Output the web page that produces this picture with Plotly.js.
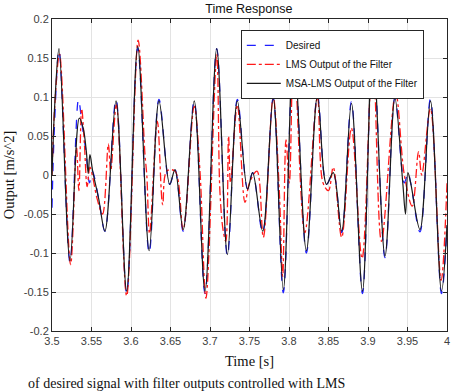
<!DOCTYPE html>
<html>
<head>
<meta charset="utf-8">
<script src="https://cdn.plot.ly/plotly-3.0.1.min.js"></script>
<style>
html,body{margin:0;padding:0;background:#fff;}
#chart{width:474px;height:392px;}
</style>
</head>
<body>
<div id="chart"></div>
<script>
// Desired signal
const tDesired = [3.5000,3.5030,3.5089,3.5228,3.5335,3.5380,3.5430,3.5475,3.5510,3.5590,3.5670,3.5810,3.5945,3.6085,3.6230,3.6354,3.6490,3.6557,3.6660,3.6800,3.6937,3.7085,3.7220,3.7346,3.7475,3.7540,3.7667,3.7800,3.7928,3.8060,3.8220,3.8360,3.8475,3.8560,3.8667,3.8790,3.8930,3.9060,3.9215,3.9340,3.9460,3.9505,3.9540,3.9658,3.9790,3.9930,4.0000];
const yDesired = [-0.042,0.060,0.160,-0.112,0.097,0.065,0.030,-0.010,0.005,-0.030,-0.072,0.097,-0.152,0.163,-0.100,0.097,-0.012,0.007,-0.072,0.095,-0.152,0.162,-0.104,0.097,-0.018,0.003,-0.074,0.099,-0.151,0.162,-0.100,0.103,-0.012,0.003,-0.074,0.094,-0.152,0.162,-0.106,0.099,-0.010,0.003,-0.010,-0.073,0.097,-0.152,-0.066];

// LMS output of the filter
const tLMS = [3.5000,3.5030,3.5095,3.5235,3.5310,3.5340,3.5375,3.5410,3.5445,3.5480,3.5520,3.5570,3.5640,3.5713,3.5743,3.5815,3.5945,3.6090,3.6177,3.6200,3.6235,3.6333,3.6401,3.6452,3.6557,3.6660,3.6800,3.6873,3.6949,3.7085,3.7125,3.7165,3.7200,3.7235,3.7260,3.7346,3.7443,3.7500,3.7595,3.7675,3.7800,3.7877,3.7920,3.7962,3.8004,3.8060,3.8200,3.8360,3.8430,3.8500,3.8560,3.8667,3.8790,3.8925,3.9060,3.9170,3.9350,3.9460,3.9560,3.9640,3.9680,3.9790,3.9925,4.0000];
const yLMS = [0.000,0.080,0.155,-0.115,0.035,-0.020,0.085,0.040,-0.015,0.010,-0.005,-0.030,-0.050,0.040,0.005,0.090,-0.155,0.173,0.026,0.000,-0.075,0.069,-0.038,0.005,0.005,-0.070,0.088,0.005,-0.158,0.155,-0.020,-0.070,-0.085,0.050,-0.010,0.090,-0.035,-0.010,0.005,-0.080,0.100,-0.020,-0.130,0.045,-0.010,0.160,-0.074,0.100,-0.010,-0.020,0.010,-0.080,0.060,-0.107,0.155,-0.085,0.105,0.000,-0.040,0.030,0.000,0.085,-0.135,-0.010];

// MSA-LMS output of the filter
const tMSA = [3.5000,3.5040,3.5089,3.5228,3.5346,3.5395,3.5435,3.5458,3.5480,3.5515,3.5590,3.5670,3.5810,3.5945,3.6085,3.6230,3.6354,3.6490,3.6557,3.6660,3.6800,3.6937,3.7085,3.7220,3.7346,3.7475,3.7540,3.7667,3.7800,3.7928,3.8060,3.8220,3.8360,3.8475,3.8560,3.8667,3.8790,3.8930,3.9060,3.9215,3.9340,3.9440,3.9475,3.9505,3.9540,3.9658,3.9790,3.9930,4.0000];
const yMSA = [0.000,0.100,0.162,-0.110,0.073,0.060,0.030,0.002,0.026,0.005,-0.030,-0.072,0.095,-0.149,0.165,-0.097,0.095,-0.012,0.007,-0.070,0.095,-0.149,0.162,-0.102,0.095,-0.018,0.003,-0.072,0.099,-0.147,0.162,-0.097,0.101,-0.012,0.003,-0.072,0.092,-0.149,0.162,-0.104,0.099,-0.010,-0.050,0.003,-0.010,-0.070,0.095,-0.149,-0.064];

const seriesNames = ['Desired','LMS Output of the Filter','MSA-LMS Output of the Filter'];
const xTickVals = [3.5,3.55,3.6,3.65,3.7,3.75,3.8,3.85,3.9,3.95,4];
const xTickText = ['3.5','3.55','3.6','3.65','3.7','3.75','3.8','3.85','3.9','3.95','4'];
const yTickVals = [-0.2,-0.15,-0.1,-0.05,0,0.05,0.1,0.15,0.2];
const yTickText = ['-0.2','-0.15','-0.1','-0.05','0','0.05','0.1','0.15','0.2'];

const traces = [
  {x:tDesired,y:yDesired,name:seriesNames[0],mode:'lines',
   line:{color:'#1f1fff',width:1.3,dash:'dash',shape:'spline',smoothing:1}},
  {x:tLMS,y:yLMS,name:seriesNames[1],mode:'lines',
   line:{color:'#ff1a1a',width:1.3,dash:'dashdot',shape:'spline',smoothing:1}},
  {x:tMSA,y:yMSA,name:seriesNames[2],mode:'lines',
   line:{color:'#1a1a1a',width:1.2,dash:'solid',shape:'spline',smoothing:1}}
];

const axisCommon = {
  showline:true, linecolor:'#262626', linewidth:1, mirror:'ticks',
  ticks:'inside', ticklen:4, tickcolor:'#262626',
  showgrid:true, gridcolor:'#e3e3e3', gridwidth:1, zeroline:false,
  tickfont:{family:'Arial, Liberation Sans, sans-serif', size:11, color:'#404040'}
};

const layout = {
  width:474, height:392,
  margin:{l:52, r:27, t:19, b:61},
  paper_bgcolor:'#fff', plot_bgcolor:'#fff',
  showlegend:true,
  title:{text:'Time Response', x:0.525, xanchor:'center', y:0.978, yanchor:'middle',
         font:{family:'Arial, Liberation Sans, sans-serif', size:12.5, color:'#111'}},
  xaxis:Object.assign({}, axisCommon, {
    range:[3.5,4], tickmode:'array', tickvals:xTickVals, ticktext:xTickText,
    title:{text:'Time [s]', standoff:9, font:{family:'Liberation Serif, Times New Roman, serif', size:14.5, color:'#111'}}
  }),
  yaxis:Object.assign({}, axisCommon, {
    range:[-0.2,0.2], tickmode:'array', tickvals:yTickVals, ticktext:yTickText,
    title:{text:'Output [m/s^2]', standoff:5, font:{family:'Liberation Serif, Times New Roman, serif', size:14.5, color:'#111'}}
  }),
  legend:{x:0.478, y:0.965, xanchor:'left', yanchor:'top',
    bgcolor:'#fff', bordercolor:'#262626', borderwidth:1,
    font:{family:'Arial, Liberation Sans, sans-serif', size:10, color:'#111'},
    itemwidth:34, tracegroupgap:0},
  annotations:[
    {xref:'paper', yref:'paper', x:-0.065, y:-0.138, xanchor:'left', yanchor:'top', showarrow:false,
     text:'of desired signal with filter outputs controlled with LMS',
     font:{family:'Liberation Serif, Times New Roman, serif', size:14, color:'#111'}}
  ]
};

Plotly.newPlot('chart', traces, layout, {displayModeBar:false, staticPlot:true});
</script>
</body>
</html>
